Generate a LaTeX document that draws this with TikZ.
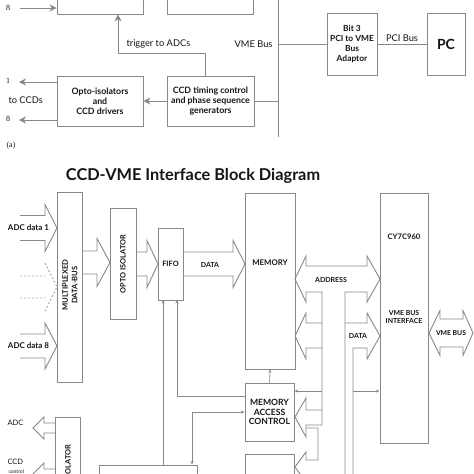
\documentclass[tikz,border=0pt]{standalone}
\usepackage{fontspec}
\setmainfont{Lato}
\newfontfamily\serifnum{Liberation Serif}
\usetikzlibrary{arrows.meta}
\definecolor{ln}{HTML}{888888}
\definecolor{tx}{HTML}{151515}
% hollow bus arrow: x0, xback, xtip, yc, shaft half, head half
\newcommand{\busarrow}[6]{%
  \draw[busline] (#1,{#4-#5}) -- (#2,{#4-#5}) -- (#2,{#4-#6}) -- (#3,#4) -- (#2,{#4+#6}) -- (#2,{#4+#5}) -- (#1,{#4+#5});}
% double bus arrow: xtipL, xbackL, xbackR, xtipR, yc, shaft half, head half
\newcommand{\busdouble}[7]{%
  \draw[busline] (#2,{#5-#6}) -- (#3,{#5-#6}) -- (#3,{#5-#7}) -- (#4,#5) -- (#3,{#5+#7}) -- (#3,{#5+#6}) -- (#2,{#5+#6}) -- (#2,{#5+#7}) -- (#1,#5) -- (#2,{#5-#7}) -- cycle;}
\begin{document}
\begin{tikzpicture}[x=1pt,y=-1pt,
  box/.style={draw=ln, line width=0.9pt, inner sep=0pt, text=tx, align=center},
  busline/.style={draw=ln, line width=0.9pt, line join=miter},
  thin/.style={draw=ln, line width=0.6pt},
  conn/.style={draw=ln, line width=1pt},
  tarr/.style={-{Stealth[length=7pt,width=7pt]}},
  sarr/.style={-{Stealth[length=3.5pt,width=3pt]}},
  topb/.style={font=\bfseries\fontsize{8.8}{10}\selectfont},
  topr/.style={font=\fontsize{9.3}{10}\selectfont, text=tx},
  numt/.style={font=\serifnum\fontsize{8}{9}\selectfont, text=tx},
  lab/.style={font=\bfseries\fontsize{7}{8.5}\selectfont, text=tx, align=center},
]
\useasboundingbox (0,0) rectangle (474,474);
\clip (0,0) rectangle (474,474);
\fill[white] (0,0) rectangle (474,474);

% ---------------- top part (a)
\node[box, minimum width=86pt, minimum height=60pt] (topA) at (100,-16) {};
\node[box, minimum width=86pt, minimum height=60pt] (topB) at (210,-16) {};
\node[box, topb, minimum width=86pt, minimum height=50pt] (opto) at (100,101) {Opto-isolators\\and\\CCD drivers};
\node[box, topb, minimum width=87pt, minimum height=50pt] (timing) at (210.5,101) {CCD timing control\\and phase sequence\\generators};
\node[box, topb, font=\bfseries\fontsize{8.4}{10}\selectfont, minimum width=50pt, minimum height=62pt] (bit3) at (352,44) {Bit 3\\PCI to VME\\Bus\\Adaptor};
\node[box, minimum width=38pt, minimum height=62pt, font=\bfseries\fontsize{14}{15}\selectfont] (pc) at (446,44) {PC};

\coordinate (vmetop) at (278,-5);
\coordinate (vmebot) at (278,137);
\draw[conn] (vmetop) -- (vmebot);

\node[numt] (n8a) at (8,8) {8};
\coordinate (in8s) at (20,8);
\draw[conn, tarr] (in8s) -- (in8s -| topA.west);

\coordinate (trigA) at (205,53);
\coordinate (trigB) at (118,53);
\draw[conn, tarr] (timing.north -| trigA) -- (trigA) -- (trigB) -- (trigB |- topA.south);
\node[topr, anchor=west] (trig) at (123,44) {trigger to ADCs};

\draw[conn, tarr] (timing.west) -- (opto.east);

\coordinate (o1) at (19,82);
\coordinate (o8) at (19,120);
\draw[conn, tarr] (opto.west |- o1) -- (o1);
\draw[conn, tarr] (opto.west |- o8) -- (o8);
\node[numt] (n1) at (8,81) {1};
\node[numt] (n8b) at (8,119) {8};
\node[topr, anchor=west] (toccd) at (5,100) {to CCDs};
\node[font=\serifnum\fontsize{8}{9}\selectfont, text=tx] (alab) at (11,146) {(a)};

\draw[conn] (timing.east) -- (timing.east -| vmetop);
\draw[conn] (bit3.west -| vmetop) -- (bit3.west);
\node[topr, anchor=east] (vmebus) at (276,44) {VME Bus};
\draw[conn] (bit3.east) -- (pc.west);
\node[topr] (pcibus) at (402,38) {PCI Bus};

% ---------------- bottom part (b)
\node[font=\bfseries\fontsize{16.3}{18}\selectfont, text=tx] (title) at (193,176) {CCD-VME Interface Block Diagram};

\node[box, minimum width=25pt, minimum height=190pt] (mux) at (69.5,287) {};
\node[lab, rotate=90, font=\bfseries\fontsize{7.6}{9.5}\selectfont] (muxt) at (70,285) {MULTIPLEXED\\DATA-BUS};
\node[box, minimum width=26pt, minimum height=111pt] (opiso) at (123,263.5) {};
\node[lab, rotate=90, font=\bfseries\fontsize{7.4}{8.5}\selectfont] (opisot) at (123,264) {OPTO ISOLATOR};
\node[box, lab, font=\bfseries\fontsize{7.4}{8.5}\selectfont, minimum width=25pt, minimum height=72pt] (fifo) at (170.5,264) {FIFO};
\node[box, minimum width=50pt, minimum height=176pt] (mem) at (270,281) {};
\node[lab, font=\bfseries\fontsize{7.8}{8.5}\selectfont] (memt) at (270,263) {MEMORY};
\node[box, minimum width=48pt, minimum height=250pt] (cy) at (404,318) {};
\node[lab, font=\bfseries\fontsize{7.6}{8.5}\selectfont] (cyt) at (404,237) {CY7C960};
\node[lab, font=\bfseries\fontsize{6.9}{8.8}\selectfont] (vmeit) at (404,317) {VME BUS\\INTERFACE};
\node[box, lab, font=\bfseries\fontsize{8.6}{9.6}\selectfont, minimum width=49pt, minimum height=58pt] (mac) at (269.5,412) {MEMORY\\ACCESS\\CONTROL};
\node[box, minimum width=49pt, minimum height=50pt] (lowbox) at (269.5,479) {};
\node[box, minimum width=98pt, minimum height=40pt] (botbox) at (148,485) {};
\node[box, minimum width=25pt, minimum height=110pt] (opiso2) at (67.5,472) {};
\node[lab, rotate=90, font=\bfseries\fontsize{7.4}{8.5}\selectfont] (opiso2t) at (68,474) {OPTO ISOLATOR};

% input bus arrows
\busarrow{20}{45}{57}{228}{12.5}{23.5}
\node[lab, font=\bfseries\fontsize{8}{9}\selectfont] (adc1) at (28.5,228) {ADC data 1};
\busarrow{20}{45}{57}{346}{12}{23}
\node[lab, font=\bfseries\fontsize{8}{9}\selectfont] (adc8) at (28.5,346) {ADC data 8};
\draw[busline, dashed, dash pattern=on 2pt off 2pt, draw=ln!70] (20,276) -- (45,276) (20,298) -- (45,298) (45,263) -- (57,287) -- (45,311);

\busarrow{82}{97}{110}{262.5}{11.5}{24}
\busarrow{136}{147}{158}{264}{12}{23.5}
\busarrow{183}{233}{245}{264}{12}{23.5}
\node[lab] (datat) at (210,265) {DATA};

% VME BUS double arrow
\busdouble{429}{440}{463}{473}{333}{14}{22.5}
\node[lab, font=\bfseries\fontsize{6.8}{7}\selectfont] (vmebt) at (451,333) {VME BUS};

% ADDRESS bus with branches
\draw[busline] (322,410) -- (322,292) -- (306,292) -- (306,302) -- (295,279) -- (306,256) -- (306,266) -- (367,266) -- (367,256) -- (380,279) -- (367,302) -- (367,292) -- (345,292) -- (345,480);
\node[lab] (addrt) at (331,280) {ADDRESS};
\draw[busline] (322,323) -- (306,323) -- (306,313) -- (295,336) -- (306,359) -- (306,348) -- (322,348);
\draw[busline] (322,410) -- (306,410) -- (306,398) -- (295,417) -- (306,437) -- (306,425) -- (322,425) -- (322,410);
\draw[busline] (306,428) -- (318,428) -- (318,460) -- (306,460) -- (306,452) -- (295,467) -- (306,482);
% DATA to VME interface
\draw[busline] (345,323) -- (367,323) -- (367,313) -- (380,336) -- (367,359) -- (367,348) -- (353,348) -- (353,480);
\node[lab] (data2t) at (358,336) {DATA};

% thin control lines
\coordinate (f1) at (163,300);
\coordinate (f2) at (177,300);
\draw[thin, sarr] (f1 |- botbox.north) -- (f1);
\draw[thin, sarr] (mac.west |- 0,396) -- (177,396) -- (f2);
\coordinate (c1) at (192,412);
\draw[thin, {Stealth[length=3.5pt,width=3pt]}-{Stealth[length=3.5pt,width=3pt]}] (c1 |- botbox.north) -- (c1) -- (c1 -| mac.west);
\draw[thin, sarr] (mac.north) -- (mem.south);
\coordinate (br1) at (322,391);
\coordinate (br2) at (353,391);
\draw[thin, sarr] (br1) -- (br1 -| mac.east);
\draw[thin, sarr] (br2) -- (br2 -| cy.west);

% lower-left outputs
\busarrow{55}{44}{33}{428}{5}{11}
\busarrow{55}{44}{33}{474}{5}{11}
\node[font=\fontsize{7.5}{8}\selectfont, text=tx, anchor=west] (adcout) at (4,423) {ADC};
\node[font=\fontsize{7.5}{8}\selectfont, text=tx, anchor=west] (ccdout) at (4,462) {CCD};
\node[font=\fontsize{5}{6}\selectfont, text=tx, anchor=west] (ctrlout) at (5,472) {control};
\end{tikzpicture}
\end{document}
